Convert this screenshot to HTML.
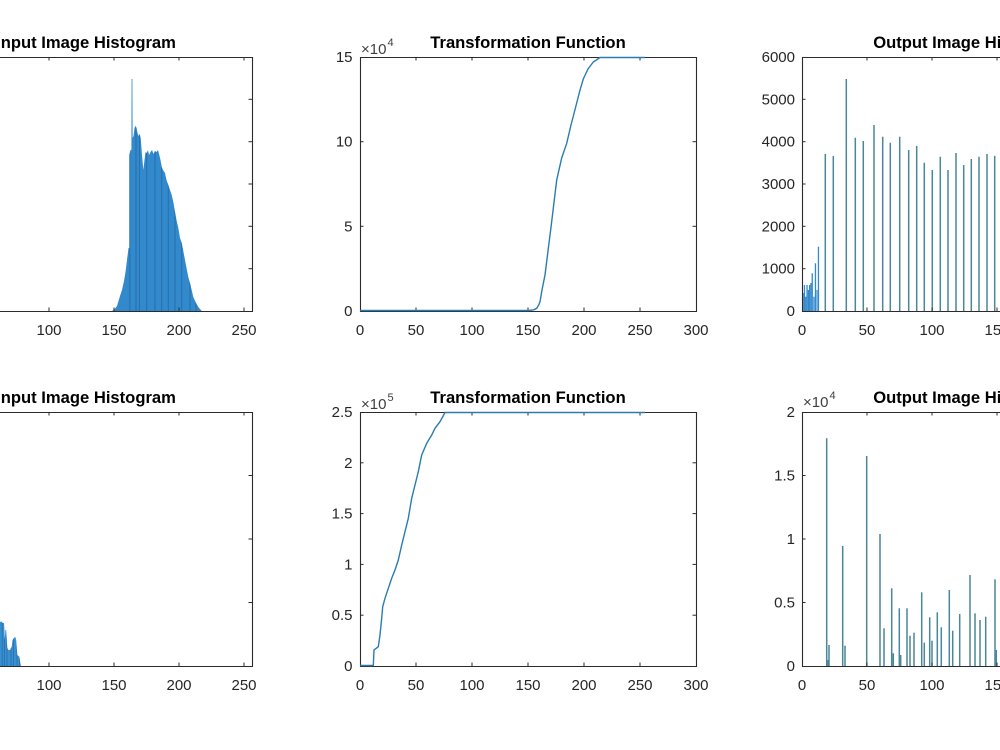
<!DOCTYPE html>
<html><head><meta charset="utf-8">
<style>
html,body{margin:0;padding:0;background:#fff;}
svg{display:block;}
text{font-family:"Liberation Sans",Arial,sans-serif;fill:#262626;}
.t{font-weight:bold;font-size:16.6px;fill:#000;}
.k{font-size:15px;}
.e{font-size:15px;fill:#404040;}
.es{font-size:11px;fill:#404040;}
.ax{fill:none;stroke:#2b2b2b;stroke-width:1.1;}
.tk{stroke:#2b2b2b;stroke-width:1;}
.sp{stroke:#4b8699;stroke-width:1.5;}
</style></head>
<body>
<svg width="1000" height="750" viewBox="0 0 1000 750" xmlns="http://www.w3.org/2000/svg">
<defs>
<clipPath id="c1"><polygon points="111.7,311 114,310 117,306 120,296 122,290 124,281 125.5,272 127,260 128.5,248 129.3,248 129.3,155 130.5,150 131.4,150 131.6,79 132.4,79 132.6,138 133.5,136 134.5,128 135.5,126 136.5,128 137.5,133 138.5,136 139.5,134 140.7,138 142,155 143.3,170 144.5,160 145.5,152 146.7,153 148,150 149,155 150.5,152 152,150 153.5,154 155,151 156.5,152 158,150 159.3,155 160.5,160 161.7,167 163,170 165,173 166.5,180 168.3,185 170,190 171.7,195 173.5,203 175,212 176.5,220 178.3,228 180,238 181.7,243 183.5,252 185,260 186.5,268 188.3,277 190.5,285 193.3,297 196,303 198.3,307 201.7,311"/></clipPath>
<clipPath id="c2"><polygon points="0,666 0,621.7 1.7,621.7 2.7,623 4,623 4.7,640 5.4,630 6.2,630 7.3,648 8.5,650 10,650 11.7,646.7 12.5,640 14,638 15.2,636.7 16.2,640 17.3,655 18.5,656 19.3,656.7 20.7,665 21,666"/></clipPath>
</defs>

<!-- ============ TOP LEFT ============ -->
<g clip-path="url(#c1)">
<rect x="100" y="70" width="110" height="245" fill="#3289cc"/>
<g stroke="#2266a0" stroke-width="1" opacity="0.7">
<line x1="129.8" y1="60" x2="129.8" y2="311"/><line x1="136" y1="60" x2="136" y2="311"/><line x1="139.5" y1="60" x2="139.5" y2="311"/><line x1="146.7" y1="60" x2="146.7" y2="311"/><line x1="155" y1="60" x2="155" y2="311"/><line x1="161.7" y1="60" x2="161.7" y2="311"/><line x1="168.3" y1="60" x2="168.3" y2="311"/><line x1="175" y1="60" x2="175" y2="311"/><line x1="181.7" y1="60" x2="181.7" y2="311"/><line x1="190" y1="60" x2="190" y2="311"/><line x1="196" y1="60" x2="196" y2="311"/>
</g>
</g>
<path class="ax" d="M-84,57.5 H252.5 V311.5 H-84"/>
<g class="tk">
<line x1="49" y1="311" x2="49" y2="307.5"/><line x1="114" y1="311" x2="114" y2="307.5"/><line x1="179" y1="311" x2="179" y2="307.5"/><line x1="244" y1="311" x2="244" y2="307.5"/>
<line x1="49" y1="57" x2="49" y2="60.5"/><line x1="114" y1="57" x2="114" y2="60.5"/><line x1="179" y1="57" x2="179" y2="60.5"/><line x1="244" y1="57" x2="244" y2="60.5"/>
<line x1="252" y1="99.3" x2="248.5" y2="99.3"/><line x1="252" y1="141.7" x2="248.5" y2="141.7"/><line x1="252" y1="184" x2="248.5" y2="184"/><line x1="252" y1="226.3" x2="248.5" y2="226.3"/><line x1="252" y1="268.7" x2="248.5" y2="268.7"/>
</g>
<text class="k" x="49" y="335" text-anchor="middle">100</text>
<text class="k" x="114" y="335" text-anchor="middle">150</text>
<text class="k" x="179" y="335" text-anchor="middle">200</text>
<text class="k" x="244" y="335" text-anchor="middle">250</text>
<text class="t" x="86" y="48" text-anchor="middle">Input Image Histogram</text>

<!-- ============ TOP MIDDLE ============ -->
<path class="ax" d="M360.5,57.5 H696.5 V311.5 H360.5 Z"/>
<g class="tk">
<line x1="416" y1="311" x2="416" y2="307.5"/><line x1="472" y1="311" x2="472" y2="307.5"/><line x1="528" y1="311" x2="528" y2="307.5"/><line x1="584" y1="311" x2="584" y2="307.5"/><line x1="640" y1="311" x2="640" y2="307.5"/>
<line x1="416" y1="57" x2="416" y2="60.5"/><line x1="472" y1="57" x2="472" y2="60.5"/><line x1="528" y1="57" x2="528" y2="60.5"/><line x1="584" y1="57" x2="584" y2="60.5"/><line x1="640" y1="57" x2="640" y2="60.5"/>
<line x1="360" y1="226.3" x2="363.5" y2="226.3"/><line x1="360" y1="141.7" x2="363.5" y2="141.7"/>
<line x1="696" y1="226.3" x2="692.5" y2="226.3"/><line x1="696" y1="141.7" x2="692.5" y2="141.7"/>
</g>
<polyline fill="none" stroke="#2a7cb0" stroke-width="1.4" points="360,310.5 528.3,310.5 533.3,310 536.7,308.3 538.7,305 540,301.7 542,290 545,275 548,251 551,227.3 556.7,180 561.7,158 566.7,143.3 571,125 576.7,103 580,90 583.3,79 588,69 593.3,62 600,57.5 645,57.5"/>
<text class="k" x="352.5" y="316" text-anchor="end">0</text>
<text class="k" x="352.5" y="231.3" text-anchor="end">5</text>
<text class="k" x="352.5" y="146.7" text-anchor="end">10</text>
<text class="k" x="352.5" y="62" text-anchor="end">15</text>
<text class="k" x="360" y="335" text-anchor="middle">0</text>
<text class="k" x="416" y="335" text-anchor="middle">50</text>
<text class="k" x="472" y="335" text-anchor="middle">100</text>
<text class="k" x="528" y="335" text-anchor="middle">150</text>
<text class="k" x="584" y="335" text-anchor="middle">200</text>
<text class="k" x="640" y="335" text-anchor="middle">250</text>
<text class="k" x="696" y="335" text-anchor="middle">300</text>
<text class="e" x="361" y="54">×10</text><text class="es" x="387.5" y="46">4</text>
<text class="t" x="528" y="48" text-anchor="middle">Transformation Function</text>

<!-- ============ TOP RIGHT ============ -->
<g fill="#3289cc">
<rect x="802.5" y="293" width="1.3" height="18"/><rect x="803.8" y="285" width="1.3" height="26"/><rect x="805.1" y="296.7" width="1.3" height="14.3"/><rect x="806.4" y="285" width="1.3" height="26"/><rect x="807.7" y="290" width="1.3" height="21"/><rect x="809" y="285" width="1.3" height="26"/><rect x="810.3" y="283" width="1.3" height="28"/><rect x="811.6" y="273.3" width="1.3" height="37.7"/><rect x="813.3" y="296.7" width="1.3" height="14.3"/><rect x="814.8" y="263.3" width="1.3" height="47.7"/><rect x="816.5" y="290" width="1" height="21"/><rect x="817.8" y="246.7" width="1.3" height="64.3"/>
</g>
<g class="sp">
<line x1="825.3" y1="311" x2="825.3" y2="154"/><line x1="833.3" y1="311" x2="833.3" y2="156"/><line x1="846.3" y1="311" x2="846.3" y2="79"/><line x1="855.3" y1="311" x2="855.3" y2="137.7"/><line x1="863.3" y1="311" x2="863.3" y2="141"/><line x1="874" y1="311" x2="874" y2="125"/><line x1="882.7" y1="311" x2="882.7" y2="136.7"/><line x1="890.3" y1="311" x2="890.3" y2="142.7"/><line x1="899.7" y1="311" x2="899.7" y2="136.7"/><line x1="908.7" y1="311" x2="908.7" y2="150"/><line x1="916.7" y1="311" x2="916.7" y2="146"/><line x1="924.3" y1="311" x2="924.3" y2="162.7"/><line x1="932.3" y1="311" x2="932.3" y2="170"/><line x1="940.3" y1="311" x2="940.3" y2="156.7"/><line x1="948" y1="311" x2="948" y2="170"/><line x1="956" y1="311" x2="956" y2="153"/><line x1="963.7" y1="311" x2="963.7" y2="165"/><line x1="971.3" y1="311" x2="971.3" y2="159"/><line x1="979" y1="311" x2="979" y2="156.7"/><line x1="987" y1="311" x2="987" y2="154"/><line x1="994.7" y1="311" x2="994.7" y2="155.7"/>
</g>
<path class="ax" d="M1010,57.5 H802.5 V311.5 H1010"/>
<g class="tk">
<line x1="867" y1="311" x2="867" y2="307.5"/><line x1="932" y1="311" x2="932" y2="307.5"/><line x1="997" y1="311" x2="997" y2="307.5"/>
<line x1="867" y1="57" x2="867" y2="60.5"/><line x1="932" y1="57" x2="932" y2="60.5"/><line x1="997" y1="57" x2="997" y2="60.5"/>
<line x1="802" y1="99.3" x2="805.5" y2="99.3"/><line x1="802" y1="141.7" x2="805.5" y2="141.7"/><line x1="802" y1="184" x2="805.5" y2="184"/><line x1="802" y1="226.3" x2="805.5" y2="226.3"/><line x1="802" y1="268.7" x2="805.5" y2="268.7"/>
</g>
<text class="k" x="795" y="316" text-anchor="end">0</text>
<text class="k" x="795" y="273.7" text-anchor="end">1000</text>
<text class="k" x="795" y="231.3" text-anchor="end">2000</text>
<text class="k" x="795" y="189" text-anchor="end">3000</text>
<text class="k" x="795" y="146.7" text-anchor="end">4000</text>
<text class="k" x="795" y="104.3" text-anchor="end">5000</text>
<text class="k" x="795" y="62" text-anchor="end">6000</text>
<text class="k" x="802" y="335" text-anchor="middle">0</text>
<text class="k" x="867" y="335" text-anchor="middle">50</text>
<text class="k" x="932" y="335" text-anchor="middle">100</text>
<text class="k" x="997" y="335" text-anchor="middle">150</text>
<text class="t" x="970" y="48" text-anchor="middle">Output Image Histogram</text>

<!-- ============ BOTTOM LEFT ============ -->
<g clip-path="url(#c2)">
<rect x="0" y="615" width="25" height="55" fill="#3a8fd0"/>
<g stroke="#2266a0" stroke-width="0.9" opacity="0.7">
<line x1="2.2" y1="600" x2="2.2" y2="666"/><line x1="4.5" y1="600" x2="4.5" y2="666"/><line x1="7" y1="600" x2="7" y2="666"/><line x1="11" y1="600" x2="11" y2="666"/><line x1="13.5" y1="600" x2="13.5" y2="666"/><line x1="17" y1="600" x2="17" y2="666"/><line x1="19.5" y1="600" x2="19.5" y2="666"/>
</g>
</g>
<path class="ax" d="M-84,412.5 H252.5 V666.5 H-84"/>
<g class="tk">
<line x1="49" y1="666" x2="49" y2="662.5"/><line x1="114" y1="666" x2="114" y2="662.5"/><line x1="179" y1="666" x2="179" y2="662.5"/><line x1="244" y1="666" x2="244" y2="662.5"/>
<line x1="49" y1="412" x2="49" y2="415.5"/><line x1="114" y1="412" x2="114" y2="415.5"/><line x1="179" y1="412" x2="179" y2="415.5"/><line x1="244" y1="412" x2="244" y2="415.5"/>
<line x1="252" y1="475.5" x2="248.5" y2="475.5"/><line x1="252" y1="539" x2="248.5" y2="539"/><line x1="252" y1="602.5" x2="248.5" y2="602.5"/>
</g>
<text class="k" x="49" y="690" text-anchor="middle">100</text>
<text class="k" x="114" y="690" text-anchor="middle">150</text>
<text class="k" x="179" y="690" text-anchor="middle">200</text>
<text class="k" x="244" y="690" text-anchor="middle">250</text>
<text class="t" x="86" y="403" text-anchor="middle">Input Image Histogram</text>

<!-- ============ BOTTOM MIDDLE ============ -->
<path class="ax" d="M360.5,412.5 H696.5 V666.5 H360.5 Z"/>
<g class="tk">
<line x1="416" y1="666" x2="416" y2="662.5"/><line x1="472" y1="666" x2="472" y2="662.5"/><line x1="528" y1="666" x2="528" y2="662.5"/><line x1="584" y1="666" x2="584" y2="662.5"/><line x1="640" y1="666" x2="640" y2="662.5"/>
<line x1="416" y1="412" x2="416" y2="415.5"/><line x1="472" y1="412" x2="472" y2="415.5"/><line x1="528" y1="412" x2="528" y2="415.5"/><line x1="584" y1="412" x2="584" y2="415.5"/><line x1="640" y1="412" x2="640" y2="415.5"/>
<line x1="360" y1="462.8" x2="363.5" y2="462.8"/><line x1="360" y1="513.6" x2="363.5" y2="513.6"/><line x1="360" y1="564.4" x2="363.5" y2="564.4"/><line x1="360" y1="615.2" x2="363.5" y2="615.2"/>
<line x1="696" y1="462.8" x2="692.5" y2="462.8"/><line x1="696" y1="513.6" x2="692.5" y2="513.6"/><line x1="696" y1="564.4" x2="692.5" y2="564.4"/><line x1="696" y1="615.2" x2="692.5" y2="615.2"/>
</g>
<polyline fill="none" stroke="#2a7cb0" stroke-width="1.4" points="360,665.5 373.3,665.5 374,650 378.3,646.7 380,635 381.7,618.3 382.7,606.7 385,598.3 388.3,588.3 391.7,578.3 395,570 398.3,560 401.7,545 405,531.7 408.3,518.3 411.7,498.3 415,485 418.3,471.7 421.7,455 426.7,443.3 431.7,435 435,428.3 440,421.7 445,412.5 645,412.5"/>
<text class="k" x="352.5" y="671" text-anchor="end">0</text>
<text class="k" x="352.5" y="620.2" text-anchor="end">0.5</text>
<text class="k" x="352.5" y="569.4" text-anchor="end">1</text>
<text class="k" x="352.5" y="518.6" text-anchor="end">1.5</text>
<text class="k" x="352.5" y="467.8" text-anchor="end">2</text>
<text class="k" x="352.5" y="417" text-anchor="end">2.5</text>
<text class="k" x="360" y="690" text-anchor="middle">0</text>
<text class="k" x="416" y="690" text-anchor="middle">50</text>
<text class="k" x="472" y="690" text-anchor="middle">100</text>
<text class="k" x="528" y="690" text-anchor="middle">150</text>
<text class="k" x="584" y="690" text-anchor="middle">200</text>
<text class="k" x="640" y="690" text-anchor="middle">250</text>
<text class="k" x="696" y="690" text-anchor="middle">300</text>
<text class="e" x="361" y="409">×10</text><text class="es" x="387.5" y="401">5</text>
<text class="t" x="528" y="403" text-anchor="middle">Transformation Function</text>

<!-- ============ BOTTOM RIGHT ============ -->
<g class="sp">
<line x1="826.7" y1="666" x2="826.7" y2="438.3"/><line x1="827.9" y1="666" x2="827.9" y2="660"/><line x1="829" y1="666" x2="829" y2="645"/><line x1="842.7" y1="666" x2="842.7" y2="546"/><line x1="845" y1="666" x2="845" y2="645.7"/><line x1="866.7" y1="666" x2="866.7" y2="456"/><line x1="880" y1="666" x2="880" y2="534"/><line x1="884" y1="666" x2="884" y2="628.3"/><line x1="891.7" y1="666" x2="891.7" y2="588.3"/><line x1="893.3" y1="666" x2="893.3" y2="653.3"/><line x1="899.3" y1="666" x2="899.3" y2="608.3"/><line x1="900.7" y1="666" x2="900.7" y2="655"/><line x1="907" y1="666" x2="907" y2="608.3"/><line x1="910" y1="666" x2="910" y2="635.7"/><line x1="914" y1="666" x2="914" y2="632.7"/><line x1="921.7" y1="666" x2="921.7" y2="592.3"/><line x1="924.3" y1="666" x2="924.3" y2="642.7"/><line x1="929.7" y1="666" x2="929.7" y2="617.3"/><line x1="932" y1="666" x2="932" y2="640.7"/><line x1="937.3" y1="666" x2="937.3" y2="612.3"/><line x1="941.3" y1="666" x2="941.3" y2="627.3"/><line x1="949.3" y1="666" x2="949.3" y2="590"/><line x1="952.7" y1="666" x2="952.7" y2="630.7"/><line x1="959.7" y1="666" x2="959.7" y2="614"/><line x1="970" y1="666" x2="970" y2="575"/><line x1="975" y1="666" x2="975" y2="613.3"/><line x1="980" y1="666" x2="980" y2="620"/><line x1="985.7" y1="666" x2="985.7" y2="616.7"/><line x1="995" y1="666" x2="995" y2="579.3"/><line x1="996.3" y1="666" x2="996.3" y2="650"/>
</g>
<path class="ax" d="M1010,412.5 H802.5 V666.5 H1010"/>
<g class="tk">
<line x1="867" y1="666" x2="867" y2="662.5"/><line x1="932" y1="666" x2="932" y2="662.5"/><line x1="997" y1="666" x2="997" y2="662.5"/>
<line x1="867" y1="412" x2="867" y2="415.5"/><line x1="932" y1="412" x2="932" y2="415.5"/><line x1="997" y1="412" x2="997" y2="415.5"/>
<line x1="802" y1="475.5" x2="805.5" y2="475.5"/><line x1="802" y1="539" x2="805.5" y2="539"/><line x1="802" y1="602.5" x2="805.5" y2="602.5"/>
</g>
<text class="k" x="795" y="671" text-anchor="end">0</text>
<text class="k" x="795" y="607.5" text-anchor="end">0.5</text>
<text class="k" x="795" y="544" text-anchor="end">1</text>
<text class="k" x="795" y="480.5" text-anchor="end">1.5</text>
<text class="k" x="795" y="417" text-anchor="end">2</text>
<text class="k" x="802" y="690" text-anchor="middle">0</text>
<text class="k" x="867" y="690" text-anchor="middle">50</text>
<text class="k" x="932" y="690" text-anchor="middle">100</text>
<text class="k" x="997" y="690" text-anchor="middle">150</text>
<text class="e" x="803" y="407">×10</text><text class="es" x="829.5" y="399">4</text>
<text class="t" x="970" y="403" text-anchor="middle">Output Image Histogram</text>
</svg>
</body></html>
